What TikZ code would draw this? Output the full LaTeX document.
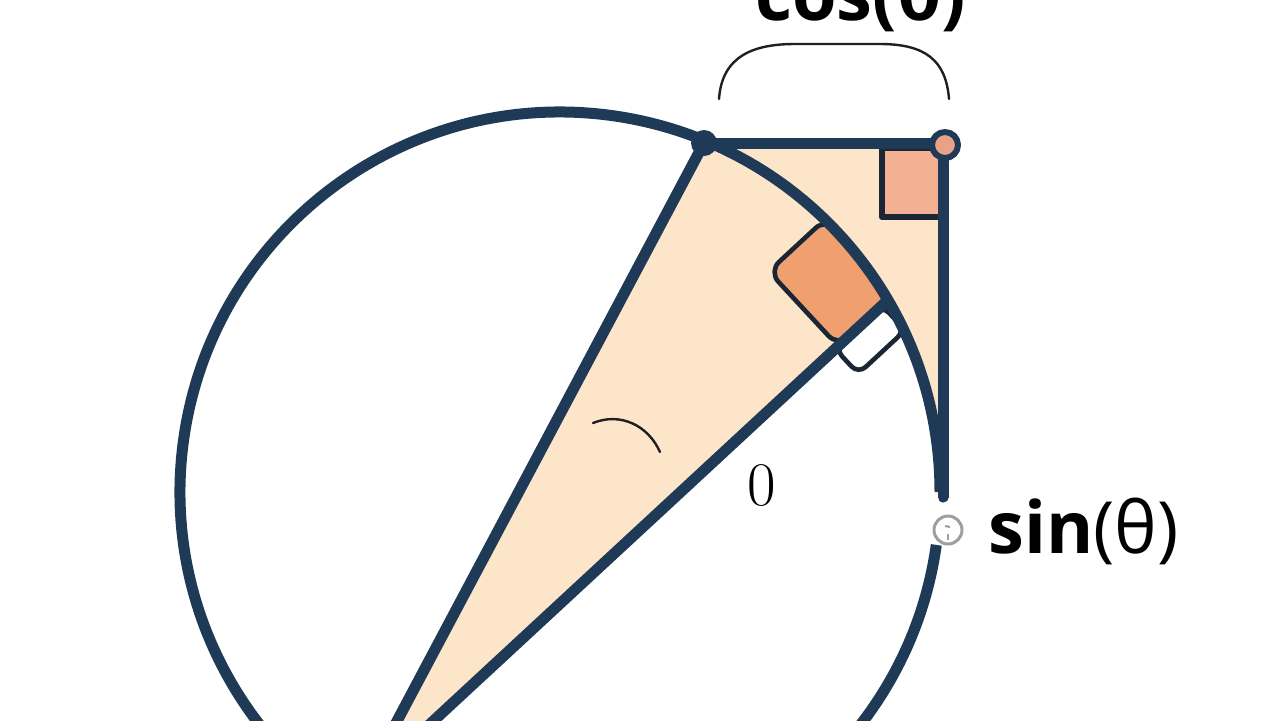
\documentclass[tikz,border=0pt]{standalone}
\usepackage{fontspec}
\newfontfamily\labelfont{Open Sans}
\usetikzlibrary{calc}
\definecolor{navy}{HTML}{1F3A56}
\definecolor{edge}{HTML}{1A2535}
\definecolor{beige}{HTML}{FDE5C9}
\definecolor{orangefill}{HTML}{EFA06E}
\definecolor{salmon}{HTML}{F4B093}
\definecolor{dotin}{HTML}{E9A285}
\tikzset{
  thickline/.style={draw=navy, line width=5.5pt},
  thinline/.style={draw=black!88, line width=1.2pt, line cap=round},
  boxedge/.style={draw=edge, line width=2.3pt},
  lbl/.style={font=\labelfont\fontsize{36}{42}\selectfont, inner sep=0pt},
}
\begin{document}
\begin{tikzpicture}[x=0.5pt,y=-0.5pt,line join=round]
\useasboundingbox (0,0) rectangle (1280,720);
\clip (0,0) rectangle (1280,720);
% key points (pixel coordinates, y downwards)
\coordinate (O) at (560,492);
\coordinate (apex) at (362,787);
\coordinate (P) at (704,143);
\coordinate (TR) at (943,143);
\coordinate (BR) at (943,497);
\coordinate (Q) at (888,300);
% beige region
\fill[beige] (apex) -- (P) -- (TR) -- (943,420) -- ($(O)+(-10.9:380)$)
  arc[start angle=-10.9, end angle=-30.3, radius=380] -- cycle;
% right-angle boxes on line 2, kept inside the circle
\begin{scope}
  \clip (O) circle[radius=380];
  \filldraw[fill=orangefill, boxedge, rounded corners=7pt]
    (895.3,293.2) -- (838.1,346.2) -- (768.8,271.4) -- (826.0,218.4) -- cycle;
  \filldraw[fill=white, boxedge, rounded corners=5pt]
    (882.1,305.4) -- (835.2,348.9) -- (858.3,373.8) -- (905.2,330.3) -- cycle;
\end{scope}
% right-angle box in the corner
\filldraw[fill=salmon, draw=edge, line width=3pt] (882,148) rectangle (943,217);
% circle with a gap on the right
\draw[thickline] ($(O)+(8:380)$) arc[start angle=8, end angle=360, radius=380];
% lines
\draw[thickline] (apex) -- (P);
\draw[thickline] (apex) -- (Q);
\draw[thickline] (P) -- (TR);
\draw[thickline, line cap=round] (TR) -- (BR);
% dots
\fill[navy] (P) circle[radius=13];
\filldraw[fill=dotin, draw=navy, line width=3pt] (945,145) circle[radius=13];
% angle mark
\draw[thinline] (593,423) .. controls (620,412) and (648,425) .. (660,452);
% brace over the top side
\draw[thinline] (719,99) .. controls (722,55) and (755,44) .. (795,44) -- (880,44)
  .. controls (925,44) and (946,60) .. (949,99);
% small clock-like mark
\filldraw[fill=white, draw=black!38, line width=1.5pt] (948,530) circle[radius=14];
\draw[black!38, line width=1pt] (945,526) -- (950,527);
\draw[black!38, line width=1pt] (948,534) -- (948,540);
% labels
\node[lbl, anchor=base west] (coslbl) at (755,20) {\bfseries cos(θ)};
\node[lbl, anchor=base west] (sinlbl) at (988,553) {\bfseries sin\mdseries(θ)};
\node[font=\fontsize{31}{36}\selectfont, inner sep=0pt] (zero) at (762,485) {0};
\end{tikzpicture}
\end{document}
